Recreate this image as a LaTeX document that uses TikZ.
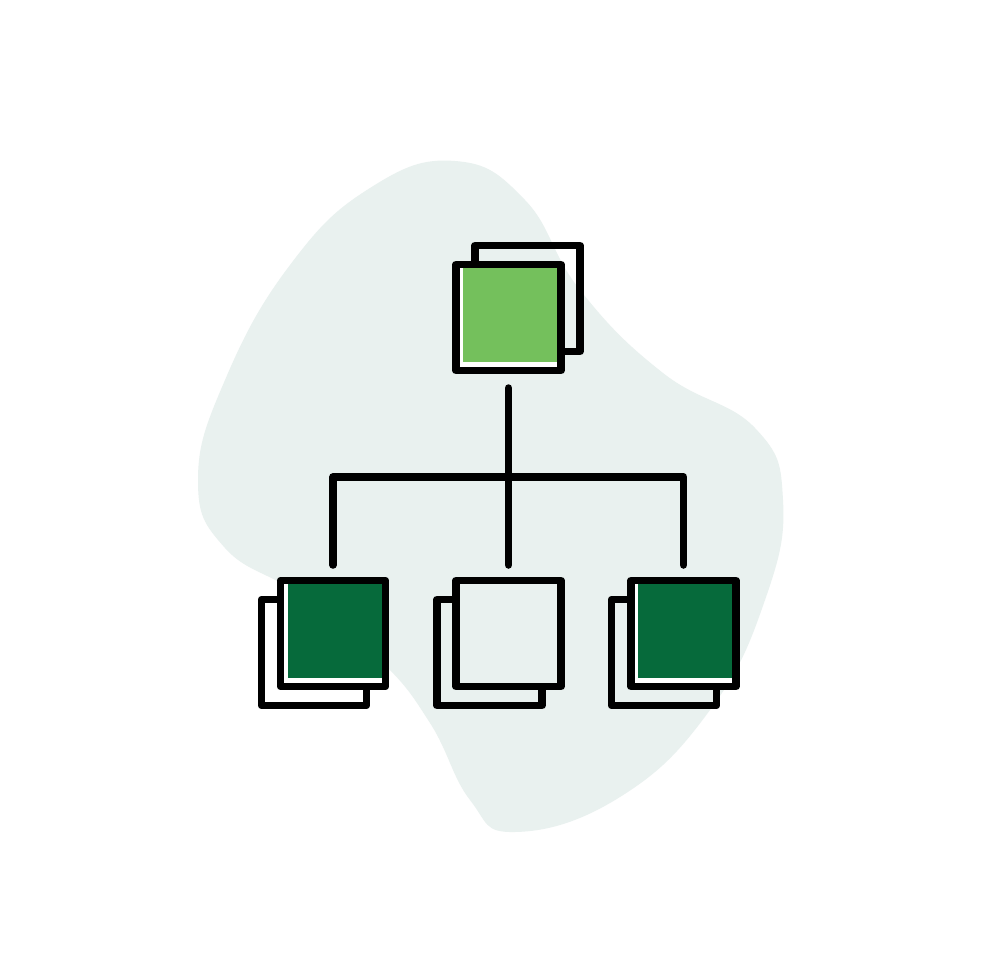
\documentclass[tikz,border=0pt]{standalone}
\usetikzlibrary{calc}
\definecolor{blobc}{HTML}{E9F1EF}
\definecolor{lightg}{HTML}{74C05C}
\definecolor{darkg}{HTML}{066A3B}
\tikzset{
  box/.style={draw=black, line width=7.5pt, line join=round, minimum width=105pt, minimum height=106pt, inner sep=0pt, outer sep=0pt},
  backbox/.style={box},
  frontbox/.style={box, fill=white, path picture={\fill[#1] ([xshift=7pt]path picture bounding box.north west) rectangle ([yshift=9pt]path picture bounding box.south east);}},
  plainbox/.style={box, fill=blobc},
  conn/.style={draw=black, line width=7.5pt, line cap=round, line join=round}
}
\begin{document}
\begin{tikzpicture}[x=1pt, y=-1pt]
\useasboundingbox (0,0) rectangle (980,980);
\fill[white] (0,0) rectangle (980,980);
% background blob
\fill[blobc] plot[smooth cycle, tension=0.75] coordinates {
 (455,161) (525,200) (580,290) (663,373) (755,428)
 (783,500) (765,600) (710,710) (620,797) (515,832)
 (470,800) (430,723) (380,660) (300,595) (225,548) (198,480)
 (225,380) (290,265) (370,188)};
% back boxes
\node[backbox] (topb) at (527.5,298.5) {};
\node[backbox] (leftb) at (314,652.5) {};
\node[backbox] (midb) at (489.5,652.5) {};
\node[backbox] (rightb) at (664,652.5) {};
% front boxes
\node[frontbox=lightg] (top) at (508.5,317.5) {};
\node[frontbox=darkg] (left) at (333,633.5) {};
\node[plainbox] (mid) at (508.5,633.5) {};
\node[frontbox=darkg] (right) at (683.5,633.5) {};
% connectors
\coordinate (bus) at (508.5,477);
\draw[conn, shorten <=17.5pt, shorten >=15.5pt] (top.south) -- (mid.north);
\draw[conn, shorten <=15.5pt, shorten >=15.5pt] (left.north) |- (bus) -| (right.north);
\end{tikzpicture}
\end{document}
